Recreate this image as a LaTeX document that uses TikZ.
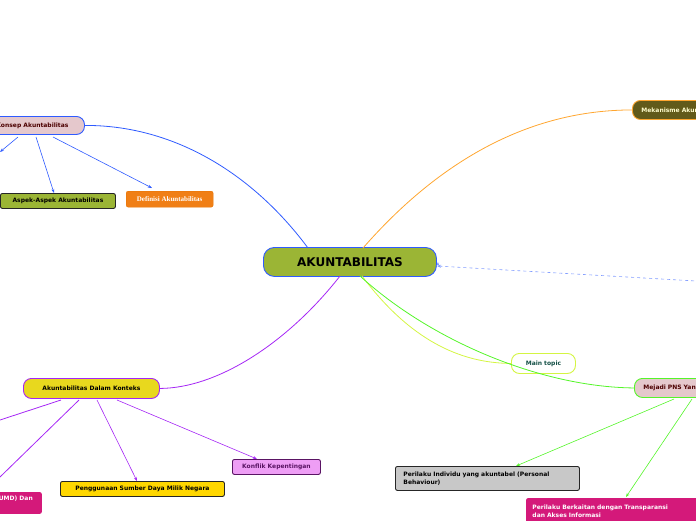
\documentclass[tikz,border=0pt]{standalone}
\usepackage{fontspec}
\setmainfont{DejaVu Sans}
\newfontfamily\serifb{Liberation Serif}
\usetikzlibrary{arrows.meta}
\definecolor{olivegr}{HTML}{9BB535}
\definecolor{konsepbg}{HTML}{E5C8CC}
\definecolor{blueln}{HTML}{2F5BFF}
\definecolor{orangeln}{HTML}{FFA630}
\definecolor{mekbg}{HTML}{625A1A}
\definecolor{greenln}{HTML}{55F52A}
\definecolor{yelgr}{HTML}{D4F542}
\definecolor{purpln}{HTML}{A526F5}
\definecolor{magbg}{HTML}{D4197A}
\definecolor{konbg}{HTML}{E8D81E}
\tikzset{
  box/.style={draw, rounded corners=2pt, line width=0.9pt, font=\fontsize{6}{7.5}\selectfont\bfseries, inner sep=0pt, anchor=north west},
  pill/.style={box, rounded corners=8pt},
  arr/.style={-{Stealth[length=4pt,width=3pt]}, line width=0.6pt},
  ln/.style={line width=0.8pt},
}
\begin{document}
\begin{tikzpicture}[x=1pt,y=-1pt]
\useasboundingbox (0,0) rectangle (696,520);
\clip (0,0) rectangle (696,520);
% center
\node[pill, rounded corners=11pt, draw=blueln, fill=olivegr, minimum width=173pt, minimum height=29pt, font=\fontsize{12}{14}\selectfont\bfseries] (c) at (263,247) {AKUNTABILITAS};
% Konsep
\node[pill, draw=blueln, fill=konsepbg, text=black!70!red, minimum width=104pt, minimum height=18pt] (k) at (-20,116) {Konsep Akuntabilitas};
\node[box, draw=black!85, fill=olivegr, minimum width=115pt, minimum height=15pt] (asp) at (0,193) {Aspek-Aspek Akuntabilitas};
\node[box, draw=orange!90!black, line width=0.3pt, fill={rgb,255:red,240;green,127;blue,22}, text=white, minimum width=87pt, minimum height=16pt, font=\serifb\fontsize{7}{8}\selectfont\bfseries] (def) at (126,191) {Definisi Akuntabilitas};
\coordinate (koff) at (0,152);
\draw[blueln, ln] (c.north west)++(45,0) coordinate (c1);
\draw[blueln, ln] (308,248) .. controls (250,170) and (170,125) .. (k.east);
\draw[blueln, arr] (18,137) -- (koff);
\draw[blueln, arr] (36,137) -- (54,193);
\draw[blueln, arr] (53,137) -- (152,188);
% Mekanisme
\node[pill, draw=orangeln, fill=mekbg, text=white!80!yellow, minimum width=130pt, minimum height=19pt, align=left, text width=120pt] (m) at (632,100) {\hspace*{4pt}Mekanisme Akuntabilitas};
\draw[orangeln, ln] (363,248) .. controls (440,160) and (530,110) .. (m.west);
% dashed
\coordinate (doff) at (696,281);
\draw[blueln!60, dashed, line width=0.6pt, {Stealth[length=4pt,width=3pt]}-] (c.east) ++(1,0) coordinate (ce);
\draw[blueln!60, dashed, line width=0.6pt, {Stealth[length=4pt,width=3pt]}-] (437,266) -- (doff);
% main topic
\node[pill, draw=yelgr, fill=white, text={rgb,255:red,20;green,80;blue,70}, minimum width=64pt, minimum height=20pt] (mt) at (511,353) {Main topic};
\draw[yelgr, ln] (362,276) .. controls (410,340) and (460,363) .. (mt.west);
% Mejadi
\node[pill, draw=greenln, fill=konsepbg, text=black!70!red, minimum width=130pt, minimum height=19pt, align=left, text width=120pt] (pns) at (634,378) {\hspace*{4pt}Mejadi PNS Yang Akuntabel};
\draw[greenln, ln] (360,276) .. controls (430,340) and (540,387) .. (pns.west);
\node[box, draw=black!85, fill={rgb,255:red,200;green,200;blue,200}, minimum width=184pt, minimum height=24pt, align=left, text width=176pt] (pi) at (395,466) {\hspace*{4pt}Perilaku Individu yang akuntabel (Personal\\\hspace*{4pt}Behaviour)};
\node[box, draw=magbg, fill=magbg, text=white, minimum width=180pt, minimum height=26pt, align=left, text width=176pt] (pb) at (526,498) {\hspace*{4pt}Perilaku Berkaitan dengan Transparansi\\\hspace*{4pt}dan Akses Informasi};
\draw[greenln, arr] (674,399) -- (516,466);
\draw[greenln, arr] (692,399) -- (626,497);
% Konteks
\node[pill, draw=purpln, fill=konbg, minimum width=136pt, minimum height=20pt] (kt) at (23,378) {Akuntabilitas Dalam Konteks};
\draw[purpln, ln] (340,276) .. controls (290,340) and (220,388) .. (kt.east);
\node[box, draw=black!85, fill={rgb,255:red,255;green,215;blue,0}, minimum width=164pt, minimum height=15pt] (pg) at (60,481) {Penggunaan Sumber Daya Milik Negara};
\node[box, draw={rgb,255:red,90;green,20;blue,100}, fill={rgb,255:red,238;green,158;blue,245}, text={rgb,255:red,90;green,20;blue,100}, minimum width=88pt, minimum height=15pt] (kk) at (232,459) {Konflik Kepentingan};
\node[box, draw=magbg, fill=magbg, text=white, minimum width=60pt, minimum height=21pt] (bm) at (-19,492) {};
\node[text=white, font=\fontsize{6}{7.5}\selectfont\bfseries, anchor=east, inner sep=0pt] (bmt) at (33,499) {(BUMN/BUMD) Dan};
\coordinate (o1) at (0,420);
\coordinate (o2) at (0,477);
\draw[purpln, ln] (61,400) -- (o1);
\draw[purpln, ln] (79,400) -- (o2);
\draw[purpln, arr] (97,400) -- (137,481);
\draw[purpln, arr] (117,400) -- (257,459);
\end{tikzpicture}
\end{document}
